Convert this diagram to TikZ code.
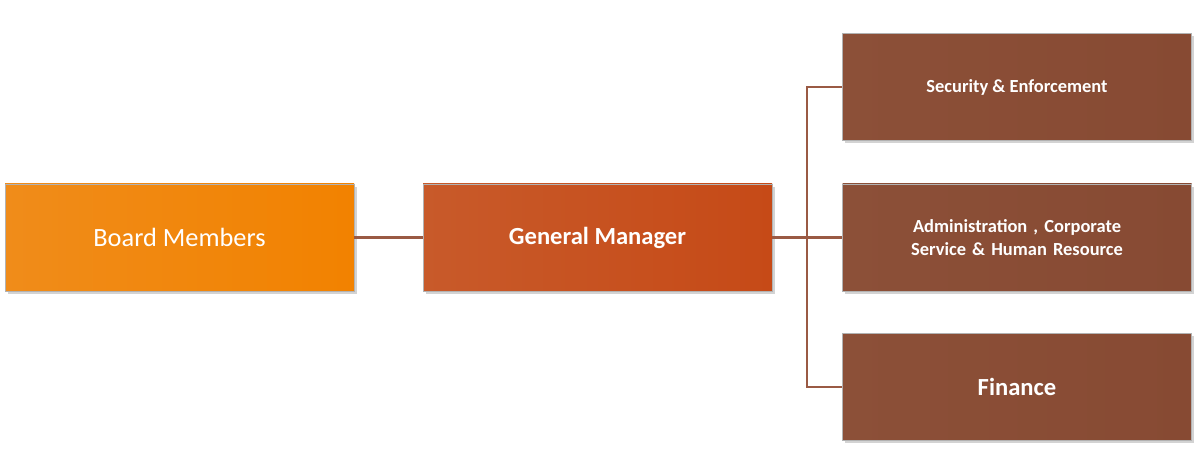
\documentclass[tikz,border=0pt]{standalone}
\usepackage{fontspec}
\setmainfont{Carlito}
\usetikzlibrary{shadows}
\definecolor{orng}{HTML}{F28200}
\definecolor{orngL}{HTML}{F08C1A}
\definecolor{gm}{HTML}{C64A17}
\definecolor{gmL}{HTML}{C85A2A}
\definecolor{br}{HTML}{874A33}
\definecolor{brL}{HTML}{8C5038}
\definecolor{ln}{HTML}{9A5A44}
\tikzset{
 box/.style={draw=gray!60, line width=0.4pt, minimum width=349*0.02cm, minimum height=107*0.02cm, text=white, align=center, drop shadow={shadow xshift=1.5pt, shadow yshift=-1.5pt, opacity=0.35}},
 conn/.style={draw=ln, line width=1.2pt}
}
\begin{document}
\begin{tikzpicture}[x=0.02cm,y=-0.02cm]
\useasboundingbox (0,0) rectangle (1200,475);
\node[box, left color=orngL, right color=orng, font=\fontsize{15}{18}\selectfont] (bm) at (179.5,237.5) {Board Members};
\node[box, left color=gmL, right color=gm, font=\bfseries\fontsize{14}{17}\selectfont] (gm) at (597.5,237.5) {General Manager};
\node[box, left color=brL, right color=br, font=\bfseries\fontsize{10.5}{13}\selectfont] (se) at (1017,87) {Security \& Enforcement};
\node[box, left color=brL, right color=br, font=\bfseries\fontsize{10.5}{13}\selectfont, text width=330*0.02cm] (ad) at (1017,237.5) {Administration , Corporate Service \& Human Resource};
\node[box, left color=brL, right color=br, font=\bfseries\fontsize{14}{17}\selectfont] (fi) at (1017,387) {Finance};
\coordinate (j) at (807,237.5);
\draw[conn] (bm.east) -- (gm.west);
\draw[conn] (gm.east) -- (ad.west);
\draw[conn] (se.west) -| (j) |- (fi.west);
\end{tikzpicture}
\end{document}
